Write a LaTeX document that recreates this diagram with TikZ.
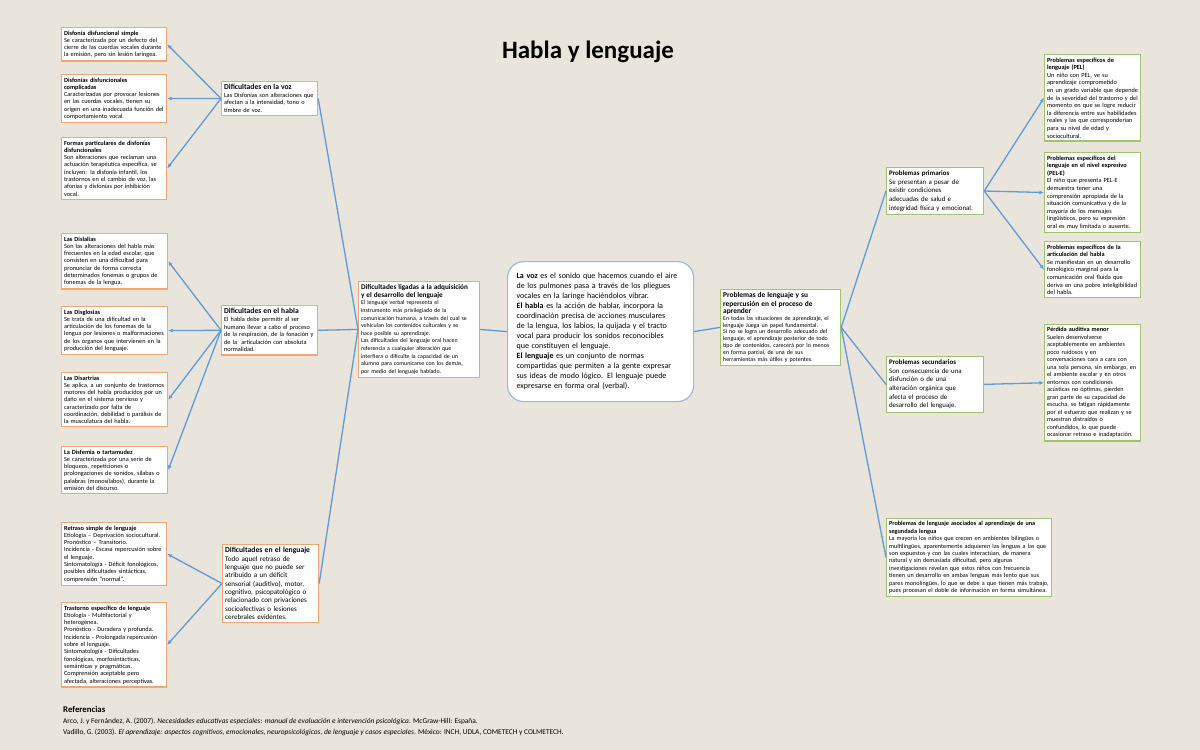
\documentclass[tikz,border=0pt]{standalone}
\usepackage{fontspec}
\setmainfont{Carlito}
\usetikzlibrary{arrows.meta}
\definecolor{fondo}{RGB}{234,229,220}
\definecolor{bordenaranja}{RGB}{245,165,110}
\definecolor{bordeverde}{RGB}{160,195,110}
\definecolor{bordeazul}{RGB}{150,185,225}
\definecolor{lineaazul}{RGB}{95,155,215}
\newcommand{\fchica}{\fontsize{6.3}{7.3}\selectfont}
\newcommand{\fverde}{\fontsize{6.3}{7.6}\selectfont}
\newcommand{\tgrande}{\fontsize{7.6}{9}\selectfont\bfseries}
\tikzset{
    naranja/.style={draw=bordenaranja, fill=white, line width=1.2pt, anchor=north west, align=left, inner xsep=2.5pt, inner ysep=3pt},
    verde/.style={draw=bordeverde, fill=white, line width=1.2pt, anchor=north west, align=left, inner xsep=2.5pt, inner ysep=3pt},
    centro/.style={draw=bordeazul, fill=white, line width=1.2pt, rounded corners=16pt, anchor=north west, align=left, inner xsep=9pt},
    enlace/.style={draw=lineaazul, line width=1.3pt},
    flecha/.style={enlace, -{Latex[length=4.5pt,width=4pt]}}
}

\begin{document}
\begin{tikzpicture}[x=1pt,y=-1pt]
    % draw the background
    \fill[fondo] (0,0) rectangle (1200,750);
    \node[anchor=base, font=\fontsize{25}{30}\selectfont\bfseries] (titulo) at (588,58) {Habla y lenguaje};

    % voice boxes on the left
    \node[naranja, text width=100pt, font=\fchica] (simple) at (61,27) {\textbf{Disfonía disfuncional simple}\\
        Se caracterizada por un defecto del\\ cierre de las cuerdas vocales durante\\ la emisión, pero sin lesión laríngea.};
    \node[naranja, text width=100pt, font=\fchica] (complicadas) at (61,74) {\textbf{Disfonías disfuncionales}\\ \textbf{complicadas}\\
        Caracterizadas por provocar lesiones\\ en las cuerdas vocales, tienen su\\ origen en una inadecuada función del\\ comportamiento vocal.};
    \node[naranja, text width=100pt, font=\fchica] (formas) at (61,137) {\textbf{Formas particulares de disfonías}\\ \textbf{disfuncionales}\\
        Son alteraciones que reclaman una\\ actuación terapéutica específica, se\\ incluyen: la disfonía infantil, los\\ trastornos en el cambio de voz, las\\ afonías y disfonías por inhibición\\ vocal.};
    \node[naranja, text width=91pt, font=\fontsize{6.3}{7.5}\selectfont] (voz) at (221,81) {{\tgrande Dificultades en la voz}\\
        Las Disfonías son alteraciones que\\ afectan a la intensidad, tono o\\ timbre de voz.};

    % speech boxes on the left
    \node[naranja, text width=101pt, font=\fchica] (dislalias) at (61,233) {\textbf{Las Dislalias}\\
        Son las alteraciones del habla más\\ frecuentes en la edad escolar, que\\ consisten en una dificultad para\\ pronunciar de forma correcta\\ determinados fonemas o grupos de\\ fonemas de la lengua.};
    \node[naranja, text width=101pt, font=\fchica] (disglosias) at (61,306) {\textbf{Las Disglosias}\\
        Se trata de una dificultad en la\\ articulación de los fonemas de la\\ lengua por lesiones o malformaciones\\ de los órganos que intervienen en la\\ producción del lenguaje.};
    \node[naranja, text width=101pt, font=\fchica] (disartrias) at (61,372) {\textbf{Las Disartrias}\\
        Se aplica, a un conjunto de trastornos\\ motores del habla producidos por un\\ daño en el sistema nervioso y\\ caracterizado por falta de\\ coordinación, debilidad o parálisis de\\ la musculatura del habla.};
    \node[naranja, text width=101pt, font=\fchica] (disfemia) at (61,446) {\textbf{La Disfemia o tartamudez}\\
        Se caracterizada por una serie de\\ bloqueos, repeticiones o\\ prolongaciones de sonidos, sílabas o\\ palabras (monosílabos), durante la\\ emisión del discurso.};
    \node[naranja, text width=91pt, font=\fontsize{6.3}{7.6}\selectfont] (habla) at (221,305) {{\tgrande Dificultades en el habla}\\
        El habla debe permitir al ser\\ humano llevar a cabo el proceso\\ de la respiración, de la fonación y\\ de la\ \ articulación con absoluta\\ normalidad.};

    % language boxes on the left
    \node[naranja, text width=100pt, font=\fchica] (retraso) at (61,522) {\textbf{Retraso simple de lenguaje}\\
        Etiología – Deprivación sociocultural.\\ Pronóstico – Transitorio.\\ Incidencia - Escasa repercusión sobre\\ el lenguaje.\\ Sintomatología - Déficit fonológicos,\\ posibles dificultades sintácticas,\\ comprensión “normal”.};
    \node[naranja, text width=100pt, font=\fchica] (trastorno) at (61,602) {\textbf{Trastorno específico de lenguaje}\\
        Etiología - Multifactorial y\\ heterogénea.\\ Pronóstico - Duradera y profunda.\\ Incidencia - Prolongada repercusión\\ sobre el lenguaje.\\ Sintomatología - Dificultades\\ fonológicas, morfosintácticas,\\ semánticas y pragmáticas.\\ Comprensión aceptable pero\\ afectada, alteraciones perceptivas.};
    \node[naranja, text width=91pt, font=\fontsize{7.1}{8.3}\selectfont] (lenguaje) at (222,544) {{\tgrande Dificultades en el lenguaje}\\
        Todo aquel retraso de\\ lenguaje que no puede ser\\ atribuido a un déficit\\ sensorial (auditivo), motor,\\ cognitivo, psicopatológico o\\ relacionado con privaciones\\ socioafectivas o lesiones\\ cerebrales evidentes.};

    % middle boxes
    \node[naranja, text width=116pt, font=\fontsize{5.9}{7.6}\selectfont] (ligadas) at (358,281) {{\fontsize{7.2}{8.3}\selectfont\bfseries Dificultades ligadas a la adquisición\\ y el desarrollo del lenguaje}\\
        El lenguaje verbal representa el\\ instrumento más privilegiado de la\\ comunicación humana, a través del cual se\\ vehiculan los contenidos culturales y se\\ hace posible su aprendizaje.\\ Las dificultades del lenguaje oral hacen\\ referencia a cualquier alteración que\\ interfiera o dificulte la capacidad de un\\ alumno para comunicarse con los demás,\\ por medio del lenguaje hablado.};
    \node[centro, text width=168pt, minimum height=140pt, font=\fontsize{8}{10}\selectfont] (voces) at (507,261) {\textbf{La voz} es el sonido que hacemos cuando el aire\\
        de los pulmones pasa a través de los pliegues\\ vocales en la laringe haciéndolos vibrar.\\
        \textbf{El habla} es la acción de hablar, incorpora la\\ coordinación precisa de acciones musculares\\ de la lengua, los labios, la quijada y el tracto\\ vocal para producir los sonidos reconocibles\\ que constituyen el lenguaje.\\
        \textbf{El lenguaje} es un conjunto de normas\\ compartidas que permiten a la gente expresar\\ sus ideas de modo lógico. El lenguaje puede\\ expresarse en forma oral (verbal).};
    \node[verde, text width=115pt, font=\fontsize{6}{6.8}\selectfont] (repercusion) at (720,289) {{\fontsize{7.4}{9}\selectfont\bfseries Problemas de lenguaje y su\\ repercusión en el proceso de\\ aprender}\\
        En todas las situaciones de aprendizaje, el\\ lenguaje Juega un papel fundamental.\\ Si no se logra un desarrollo adecuado del\\ lenguaje, el aprendizaje posterior de todo\\ tipo de contenidos, carecerá por lo menos\\ en forma parcial, de una de sus\\ herramientas más útiles y potentes.};

    % problem boxes on the right
    \node[verde, text width=92pt, font=\fontsize{6.9}{8.7}\selectfont] (primarios) at (886,167) {\textbf{Problemas primarios}\\
        Se presentan a pesar de\\ existir condiciones\\ adecuadas de salud e\\ integridad física y emocional.};
    \node[verde, text width=92pt, font=\fontsize{6.9}{8.7}\selectfont] (secundarios) at (886,356) {\textbf{Problemas secundarios}\\
        Son consecuencia de una\\ disfunción o de una\\ alteración orgánica que\\ afecta el proceso de\\ desarrollo del lenguaje.};
    \node[verde, text width=91pt, font=\fverde] (pel) at (1044,54) {\textbf{Problemas específicos de}\\ \textbf{lenguaje (PEL)}\\
        Un niño con PEL, ve su\\ aprendizaje comprometido\\ en un grado variable que depende\\ de la severidad del trastorno y del\\ momento en que se logre reducir\\ la diferencia entre sus habilidades\\ reales y las que corresponderían\\ para su nivel de edad y\\ sociocultural.};
    \node[verde, text width=91pt, font=\fverde] (pele) at (1044,152) {\textbf{Problemas específicos del}\\ \textbf{lenguaje en el nivel expresivo}\\ \textbf{(PEL-E)}\\
        El niño que presenta PEL-E\\ demuestra tener una\\ comprensión apropiada de la\\ situación comunicativa y de la\\ mayoría de los mensajes\\ lingüísticos, pero su expresión\\ oral es muy limitada o ausente.};
    \node[verde, text width=91pt, font=\fverde] (articulacion) at (1044,241) {\textbf{Problemas específicos de la}\\ \textbf{articulación del habla}\\
        Se manifiestan en un desarrollo\\ fonológico marginal para la\\ comunicación oral fluida que\\ deriva en una pobre inteligibilidad\\ del habla.};
    \node[verde, text width=91pt, font=\fontsize{6.2}{7.5}\selectfont] (perdida) at (1044,324) {\textbf{Pérdida auditiva menor}\\
        Suelen desenvolverse\\ aceptablemente en ambientes\\ poco ruidosos y en\\ conversaciones cara a cara con\\ una sola persona, sin embargo, en\\ el ambiente escolar y en otros\\ entornos con condiciones\\ acústicas no óptimas, pierden\\ gran parte de su capacidad de\\ escucha, se fatigan rápidamente\\ por el esfuerzo que realizan y se\\ muestran distraídos o\\ confundidos, lo que puede\\ ocasionar retraso e inadaptación.};
    \node[verde, text width=160pt, font=\fontsize{6.2}{7.4}\selectfont] (segunda) at (886,518) {\textbf{Problemas de lenguaje asociados al aprendizaje de una}\\ \textbf{segundada lengua}\\
        La mayoría los niños que crecen en ambientes bilingües o\\ multilingües, aparentemente adquieren las lenguas a las que\\ son expuestos y con las cuales interactúan, de manera\\ natural y sin demasiada dificultad, pero algunas\\ investigaciones revelan que estos niños con frecuencia\\ tienen un desarrollo en ambas lenguas más lento que sus\\ pares monolingües, lo que se debe a que tienen más trabajo,\\ pues procesan el doble de información en forma simultánea.};

    % references
    \node[anchor=north west, align=left, inner sep=0pt, font=\fontsize{7.4}{11}\selectfont] (referencias) at (63,706) {{\fontsize{8.8}{11}\selectfont\bfseries Referencias}\\
        Arco, J. y Fernández, A. (2007). \textit{Necesidades educativas especiales: manual de evaluación e intervención psicológica}. McGraw-Hill: España.\\
        Vadillo, G. (2003). \textit{El aprendizaje: aspectos cognitivos, emocionales, neuropsicológicos, de lenguaje y casos especiales}. México: INCH, UDLA, COMETECH y COLMETECH.};

    % draw the links between the boxes
    \foreach \b in {voz,habla,lenguaje}
        \draw[enlace] (ligadas.west) -- (\b.east);
    \draw[enlace] (ligadas.east) -- (voces.west);
    \draw[enlace] (voces.east) -- (repercusion.west);
    \foreach \b in {primarios,secundarios,segunda}
        \draw[enlace] (repercusion.east) -- (\b.west);

    % draw the arrows to the detail boxes
    \foreach \b in {simple,complicadas,formas}
        \draw[flecha] (voz.west) -- (\b.east);
    \foreach \b in {dislalias,disglosias,disartrias,disfemia}
        \draw[flecha] (habla.west) -- (\b.east);
    \foreach \b in {retraso,trastorno}
        \draw[flecha] (lenguaje.west) -- (\b.east);
    \foreach \b in {pel,pele,articulacion}
        \draw[flecha] (primarios.east) -- (\b.west);
    \draw[flecha] (secundarios.east) -- (perdida.west);
\end{tikzpicture}
\end{document}
